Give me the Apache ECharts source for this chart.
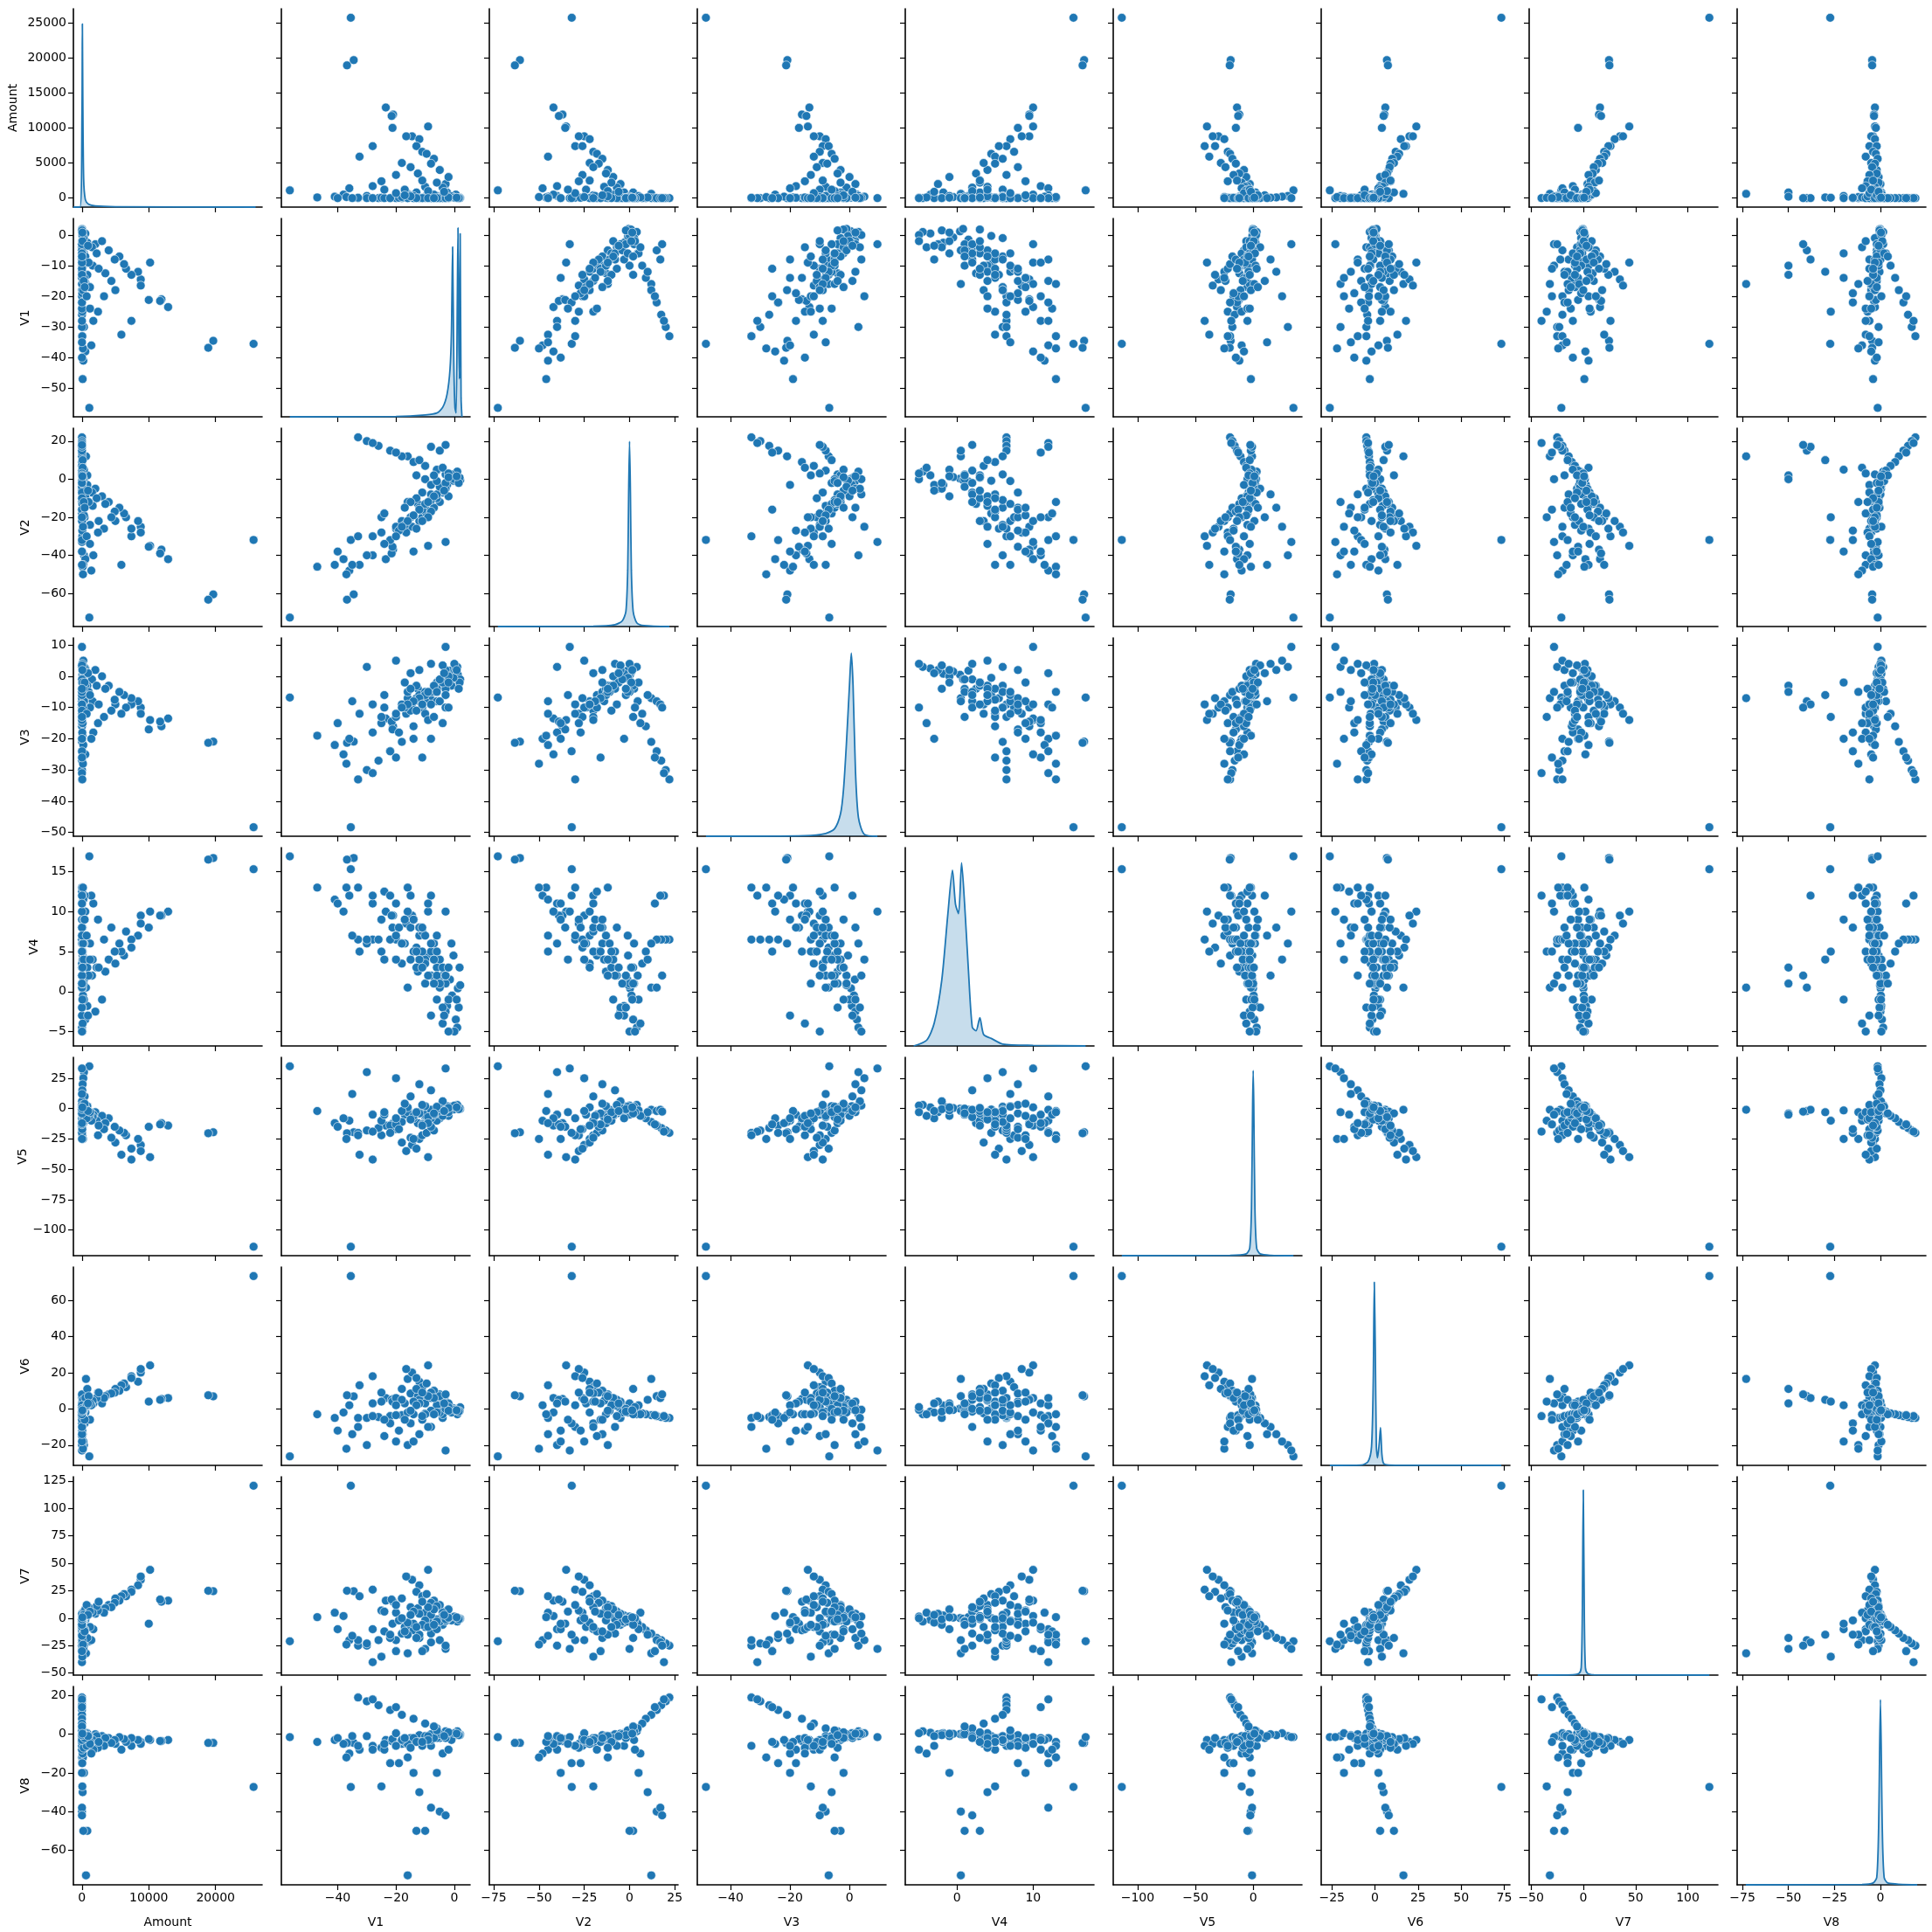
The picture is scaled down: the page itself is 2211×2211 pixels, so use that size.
<!DOCTYPE html>
<html><head><meta charset="utf-8">
<script src="https://cdn.jsdelivr.net/npm/echarts@6/dist/echarts.min.js"></script>
<style>html,body{margin:0;background:#fff}#c{width:2211px;height:2211px}</style>
</head><body><div id="c"></div>
<script>
const varNames = ['Amount','V1','V2','V3','V4','V5','V6','V7','V8'];
// each index k is one record across all variables
const amount = [25691,19656,18910,1100,600, 50,150,20,300,800,10,2000,500,100,1500,4000,3000,0,250,60,
 10200,12900,11900,11700,10000,8800,8800,8400,7400,7400,6600,6300,5900,5600,5000,4900,4400,3500,3300,2400,2200,1700,1600,1400,1200,
 300,200,100,50,0,400,0, 0,1,0,1,0,1,0,1,0,0,0, 0,1,100,0,800,200,50,300, 500,200,100,0,50,0,0,150,0,0,40,0,0,0,100,0,
 0,100,200,50,0,300,0,150,0,500,1000,0,0,250,0,80,0,700,1200,0,400,2500,0,0,900,60];
const v1 = [-35.5,-34.5,-36.8,-56.4,-16.0, 1.2,-0.8,2.0,-1.5,-2.5,1.8,-3.0,0.5,-0.3,-4.0,-5.0,-2.0,1.0,-1.0,0.0,
 -9.0,-23.5,-21.0,-21.5,-21.2,-14.5,-16.5,-12.0,-28.0,-13.0,-11.0,-9.5,-32.5,-7.0,-18.0,-8.0,-15.0,-12.5,-20.0,-25.0,-6.0,-28.0,-10.0,-36.0,-17.0,
 -30.0,-20.0,-12.0,-8.0,-3.0,-15.0,-4.0, -33.0,-30.0,-26.0,-22.0,-18.0,-14.0,-10.0,-6.0,-3.0,-28.0,-20.0, -5.0,-8.0,-12.0,-3.0,-13.0,-10.0,-25.0,-6.0,
 -38.0,-41.0,-47.0,-40.0,-33.0,-24.0,-16.0,-37.0,-22.0,-14.0,-19.0,-11.0,-35.0,-8.0,-4.0,-2.0,
 -4,-6,-8,-10,-12,-14,-16,-18,-5,-7,-9,-11,-13,-15,-3,-2,-6,-20,-24,-9,-17,-11,-7,1.5,-3.5,0.8];
const v2 = [-31.9,-60.5,-63.3,-72.7,12.0, 0.3,1.1,-0.5,-1.2,-3.0,0.8,-5.0,2.0,-0.8,-7.0,-12.0,-9.0,4.0,2.5,0.0,
 -35.0,-42.0,-37.0,-39.0,-35.5,-25.0,-28.0,-22.0,-30.0,-26.0,-20.0,-18.0,-45.0,-15.0,-22.0,-17.0,-20.0,-13.0,-26.0,-28.0,-10.0,-40.0,-14.0,-48.0,-24.0,
 -40.0,-25.0,-15.0,-8.0,-33.0,-20.0,-5.0, 22.0,20.0,17.5,15.0,12.0,9.0,7.0,4.5,2.5,19.0,14.0, 15.0,17.0,10.0,18.0,2.0,0.0,-20.0,5.0,
 -42.0,-45.0,-46.0,-38.0,-30.0,-18.0,-12.0,-50.0,-32.0,-38.0,-27.0,-16.0,-45.0,-3.0,6.0,3.0,
 -6,-8,-11,-13,-16,-19,-22,-25,-4,-9,-12,-7,-10,-12,-2,1,-1,-30,-34,-20,-15,-22,2,-2,-6,1.5];
const v3 = [-48.3,-20.9,-21.3,-6.8,-7.0, 0.5,1.5,-1.0,1.8,0.8,-2.0,2.0,2.5,-0.5,-1.0,-3.0,0.0,3.0,-3.0,4.0,
 -14.0,-13.5,-16.0,-14.5,-17.0,-10.0,-12.0,-8.0,-9.0,-7.0,-10.0,-6.0,-12.0,-5.0,-9.0,-7.5,-11.0,-4.0,-13.0,-15.0,-3.0,-18.0,-8.0,-20.0,-10.0,
 3.0,5.0,2.0,4.0,9.4,1.0,3.5, -33.0,-30.0,-27.0,-24.0,-21.0,-16.0,-12.0,-8.0,-4.0,-31.0,-26.0, -8.0,-9.0,-6.0,-10.0,-3.0,-5.0,-13.0,-2.0,
 -25.0,-22.0,-19.0,-15.0,-33.0,-10.0,-5.0,-28.0,-24.0,-20.0,-18.0,-26.0,-8.0,-20.0,-15.0,-10.0,
 -2,-4,-5,-6,-7,-8,-9,-10,-1,-3,-5,-9,-11,-4,-6,-2,-5,-12,-6,-14,-2,-9,-13,-4,1,2];
const v4 = [15.3,16.7,16.5,16.9,0.5, 0.4,-0.5,0.8,1.5,-1.8,3.0,-2.5,-3.5,4.5,2.0,4.0,-1.0,-4.5,6.0,-5.0,
 10.0,10.0,9.5,9.5,8.0,9.5,8.5,7.0,6.5,5.5,7.5,4.5,5.0,6.0,3.5,5.0,8.0,2.5,6.5,9.0,3.0,11.0,4.0,12.0,6.0,
 6.0,4.0,8.0,2.0,10.0,12.0,-2.0, 6.5,6.5,6.5,6.5,6.0,5.0,3.5,2.0,1.0,12.0,11.0, 0.5,12.0,4.0,2.0,3.0,1.0,5.0,-1.0,
 10.0,11.5,13.0,11.0,13.0,12.5,13.0,13.0,12.0,9.0,8.0,5.0,7.0,-3.0,-4.0,-5.0,
 3,5,6,7,8,9,10,6,1,4,2,8,5,4,2,3,7,7,4,11,9,3,1,-2,-3,-1];
const v5 = [-113.7,-19.5,-20.3,34.8,-1.0, -0.1,0.4,-0.3,-1.0,2.0,0.5,-3.0,1.0,-0.8,-4.0,-8.0,-6.0,3.0,1.5,2.5,
 -40.0,-14.0,-12.0,-13.0,-15.0,-30.0,-35.0,-25.0,-42.0,-33.0,-22.0,-20.0,-38.0,-18.0,-28.0,-15.0,-24.0,-12.0,-17.0,-22.0,-10.0,-5.0,-7.0,-10.0,-5.0,
 30.0,25.0,20.0,15.0,33.0,10.0,6.0, -20.0,-18.0,-16.0,-14.0,-11.0,-8.0,-6.0,-4.0,-2.0,-19.0,-13.0, -2.0,-1.0,-3.0,-2.5,-4.0,-5.0,-10.0,-1.5,
 -8.0,-12.0,-2.0,-15.0,-22.0,-5.0,-3.0,-25.0,-20.0,-25.0,-17.0,-13.0,12.0,-8.0,-6.0,-3.0,
 -2,-3,-1,2,-4,-6,1,-2,0,-5,-7,3,-3,-9,-1,0.5,1.5,-8,-3,-12,4,-14,-4,-0.5,-2,1];
const v6 = [73.3,6.9,7.5,-26.2,16.5, 0.2,-0.6,0.9,1.3,1.8,-1.2,4.0,-1.5,0.3,5.0,8.0,3.0,-3.0,-2.0,-0.5,
 24.0,6.0,5.5,5.0,4.0,20.0,22.0,15.0,18.0,17.0,12.0,14.0,13.0,10.0,11.0,9.0,8.5,7.0,6.0,9.0,6.0,3.0,4.5,2.0,3.0,
 -20.0,-18.0,-14.0,-10.0,-23.0,-8.0,-5.0, -5.0,-5.0,-4.5,-4.0,-3.5,-3.0,-2.5,-1.5,-1.0,-4.0,-3.5, 7.0,6.0,5.0,8.0,11.0,3.0,4.0,2.0,
 -2.0,-5.0,-3.0,-12.0,-10.0,-15.0,-20.0,-22.0,-8.0,-18.0,-12.0,-6.0,-14.0,-2.0,-3.0,1.0,
 1,2,-1,-3,3,4,-2,5,-2,6,7,-4,2,-1,0,-1,-2,2,-6,-10,-6,9,-3,-1.5,3,-0.8];
const v7 = [120.6,24.6,25.0,-21.0,-32.0, 0.1,0.5,-0.4,1.0,2.5,-0.8,4.0,-1.5,0.2,6.0,12.0,8.0,-3.0,-2.0,1.5,
 44.0,16.0,15.0,17.0,-5.0,35.0,38.0,30.0,26.0,24.0,20.0,22.0,20.0,16.0,18.0,14.0,10.0,9.0,5.0,7.0,11.0,-10.0,5.0,-20.0,-8.0,
 -25.0,-20.0,-18.0,-14.0,-28.0,-10.0,-6.0, -25.0,-23.0,-20.0,-18.0,-14.0,-11.0,-8.0,-5.0,-2.5,-40.0,-30.0, -20.0,-22.0,-15.0,-25.0,-18.0,-28.0,-35.0,-10.0,
 2.0,5.0,1.0,-10.0,-20.0,-12.0,-15.0,-24.0,-15.0,-5.0,-2.0,-30.0,-16.0,-4.0,5.0,0.0,
 2,-1,3,-2,4,6,-4,0,-3,8,10,-6,-8,3,-1,0.5,-3,12,6,-8,-12,15,-6,-1,3,0.8];
const v8 = [-27.3,-4.5,-4.5,-1.5,-73.0, 0.1,0.2,-0.2,0.4,0.5,-0.5,0.0,0.8,-1.0,-1.5,-2.0,-1.0,1.5,-3.0,0.5,
 -3.0,-3.0,-3.5,-3.5,-2.5,-4.0,-5.0,-3.0,-6.0,-2.0,-4.0,-2.5,-8.0,-1.5,-5.0,-3.0,-4.5,-2.0,-6.0,-7.0,-1.0,-8.0,-3.0,-10.0,-4.0,
 -1.0,0.5,-0.5,0.0,-1.5,-2.0,0.3, 19.0,17.0,15.0,12.5,10.0,8.0,5.5,3.0,1.5,18.0,14.0, -40.0,-38.0,-30.0,-42.0,-50.0,-50.0,-27.0,-20.0,
 -5.0,-3.0,-4.0,-2.0,-6.0,-8.0,-12.0,-12.0,-15.0,-20.0,-15.0,-4.0,-1.0,-6.0,-10.0,-8.0,
 -1,-2,-3,-1,-4,-2,-5,-3,0,-2,-1,-6,-4,-7,-2,1,2,-6,-5,-3,-2,-4,4,-0.5,-1,0.3];

// diagonal density curves (relative height)
const kdeX = [
 [-1285,-300,0,60,120,250,500,1000,2000,5000,26000],
 [-56.4,-20,-10,-6,-4,-2.5,-1.5,-1,-0.6,-0.2,0.2,0.6,1.0,1.25,1.5,1.75,2.0,2.3,2.6],
 [-72.7,-20,-8,-4,-2,-1,-0.5,0,0.5,1,2,4,8,22],
 [-48.3,-15,-8,-5,-3,-2,-1,0,0.6,1.2,2,3,5,9.4],
 [-5.7,-4,-3,-2,-1.2,-0.6,-0.2,0.2,0.6,1.0,1.5,2,2.5,3,3.5,4.5,6,10,16.9],
 [-113.7,-20,-6,-3,-1.5,-0.5,0,0.5,1.5,3,6,15,34.8],
 [-26.2,-8,-4,-2,-1,-0.4,0.2,0.8,1.5,2.5,3.2,4,5,8,20,73.3],
 [-43.6,-10,-4,-2,-1,0,1,2,4,10,120.6],
 [-73.2,-10,-4,-2,-1,0,1,2,4,20]
];
const kdeY = [
 [0,0,0.5,0.97,0.6,0.15,0.04,0.015,0.006,0.002,0],
 [0,0.002,0.01,0.02,0.05,0.12,0.25,0.45,0.9,0.3,0.05,0.02,0.6,1.0,0.45,0.2,0.97,0.1,0],
 [0,0.002,0.01,0.03,0.08,0.3,0.7,0.98,0.7,0.3,0.08,0.02,0.005,0],
 [0,0.003,0.015,0.04,0.12,0.25,0.5,0.8,0.97,0.8,0.35,0.1,0.01,0],
 [0,0.03,0.12,0.35,0.7,0.93,0.75,0.7,0.97,0.75,0.4,0.1,0.08,0.15,0.06,0.04,0.01,0.003,0],
 [0,0.002,0.01,0.04,0.25,0.8,0.98,0.8,0.25,0.04,0.01,0.002,0],
 [0,0.002,0.02,0.1,0.45,0.97,0.6,0.1,0.04,0.12,0.2,0.06,0.01,0.002,0.001,0],
 [0,0.002,0.01,0.04,0.3,0.98,0.3,0.04,0.01,0.002,0],
 [0,0.002,0.01,0.04,0.3,0.98,0.3,0.04,0.01,0]
];
const ranges = [[-1285,26976],[-59.3,5.4],[-77.4,26.8],[-51.2,12.3],[-6.8,18.0],[-121.1,42.2],[-31.2,78.3],[-51.8,128.8],[-77.9,24.7]];
const xTicks = [[0,10000,20000],[-40,-20,0],[-75,-50,-25,0,25],[-40,-20,0],[0,10],[-100,-50,0],[-25,0,25,50,75],[-50,0,50,100],[-75,-50,-25,0]];
const yTicks = [[0,5000,10000,15000,20000,25000],[-50,-40,-30,-20,-10,0],[-60,-40,-20,0,20],[-50,-40,-30,-20,-10,0,10],[-5,0,5,10,15],[-100,-75,-50,-25,0,25],[-20,0,20,40,60],[-50,-25,0,25,50,75,100,125],[-60,-40,-20,0,20]];

const cols = [amount,v1,v2,v3,v4,v5,v6,v7,v8];
const C = '#1f77b4';
const fmt = v => String(v).replace('-', '\u2212');
const font = 'DejaVu Sans';
const grid=[], xAxis=[], yAxis=[], series=[];
const N = 9;
for (let i=0;i<N;i++) for (let j=0;j<N;j++) {
  const g = i*N+j;
  grid.push({left:84+238*j, top:10+240*i, width:216, height:227});
  xAxis.push({type:'value', gridIndex:g, min:ranges[j][0], max:ranges[j][1],
    splitLine:{show:false},
    axisLine:{show:true, onZero:false, lineStyle:{color:'#000', width:1.6}},
    axisTick:{show:true, length:6, customValues:xTicks[j], lineStyle:{color:'#000', width:1.2}},
    axisLabel:{show:i===N-1, customValues:xTicks[j], formatter:fmt, color:'#000', fontSize:14, fontFamily:font, margin:8},
    name: i===N-1 ? varNames[j] : '', nameLocation:'middle', nameGap:36,
    nameTextStyle:{color:'#000', fontSize:14, fontFamily:font}});
  const yi = yAxis.length;
  yAxis.push({type:'value', gridIndex:g, min:ranges[i][0], max:ranges[i][1],
    splitLine:{show:false},
    axisLine:{show:true, onZero:false, lineStyle:{color:'#000', width:1.6}},
    axisTick:{show:true, length:6, customValues:yTicks[i], lineStyle:{color:'#000', width:1.2}},
    axisLabel:{show:j===0, customValues:yTicks[i], formatter:fmt, color:'#000', fontSize:14, fontFamily:font, margin:8},
    name: j===0 ? varNames[i] : '', nameLocation:'middle', nameGap:i===0?62:(i===4?38:48), nameRotate:90,
    nameTextStyle:{color:'#000', fontSize:14, fontFamily:font}});
  if (i===j) {
    const yk = yAxis.length;
    yAxis.push({type:'value', gridIndex:g, min:0, max:1.05, show:false});
    series.push({type:'line', xAxisIndex:g, yAxisIndex:yk, symbol:'none', smooth:0.25,
      data: kdeX[i].map((x,k)=>[x,kdeY[i][k]]),
      lineStyle:{color:C, width:1.8}, areaStyle:{color:C, opacity:0.25}});
  } else {
    series.push({type:'scatter', xAxisIndex:g, yAxisIndex:yi, symbolSize:10,
      data: cols[j].map((x,k)=>[x, cols[i][k]]),
      itemStyle:{color:C, borderColor:'#fff', borderWidth:0.6, opacity:1}});
  }
}
const chart = echarts.init(document.getElementById('c'), null, {renderer:'canvas'});
chart.setOption({animation:false, backgroundColor:'#fff', grid, xAxis, yAxis, series});
</script></body></html>
